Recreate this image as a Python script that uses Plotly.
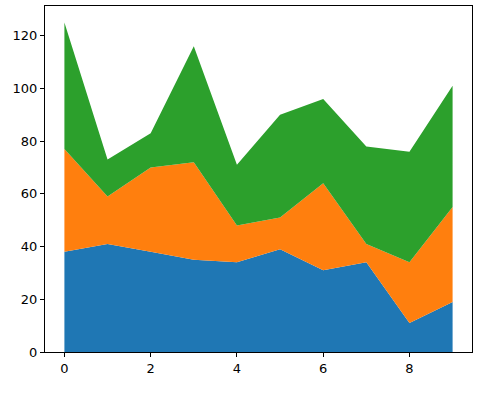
import plotly.graph_objects as go

x_values = [0, 1, 2, 3, 4, 5, 6, 7, 8, 9]
series_a = [38, 41, 38, 35, 34, 39, 31, 34, 11, 19]
series_b = [39, 18, 32, 37, 14, 12, 33, 7, 23, 36]
series_c = [48, 14, 13, 44, 23, 39, 32, 37, 42, 46]
colors = ["#1f77b4", "#ff7f0e", "#2ca02c"]

fig = go.Figure()
for ys, c in zip([series_a, series_b, series_c], colors):
    fig.add_trace(go.Scatter(
        x=x_values, y=ys, mode="lines", stackgroup="one",
        line=dict(width=0, color=c), fillcolor=c, hoverinfo="skip",
    ))

total_max = max(a + b + c for a, b, c in zip(series_a, series_b, series_c))

axis_common = dict(
    showgrid=False, zeroline=False, showline=True, mirror=True,
    linecolor="black", linewidth=1, ticks="outside", ticklen=4,
    tickcolor="black", tickwidth=1,
    tickfont=dict(family="DejaVu Sans", size=13, color="black"),
)
fig.update_layout(
    width=492, height=397,
    margin=dict(l=45, r=20, t=6, b=45),
    paper_bgcolor="white", plot_bgcolor="white",
    showlegend=False,
    xaxis=dict(range=[-0.45, 9.45], tickvals=[0, 2, 4, 6, 8], **axis_common),
    yaxis=dict(range=[0, total_max * 1.05], tickvals=[0, 20, 40, 60, 80, 100, 120], **axis_common),
)
fig.write_html(
    "out.html",
    config={"displayModeBar": False, "staticPlot": True},
    post_script="document.body.style.margin='0';document.body.style.overflow='hidden';",
)
